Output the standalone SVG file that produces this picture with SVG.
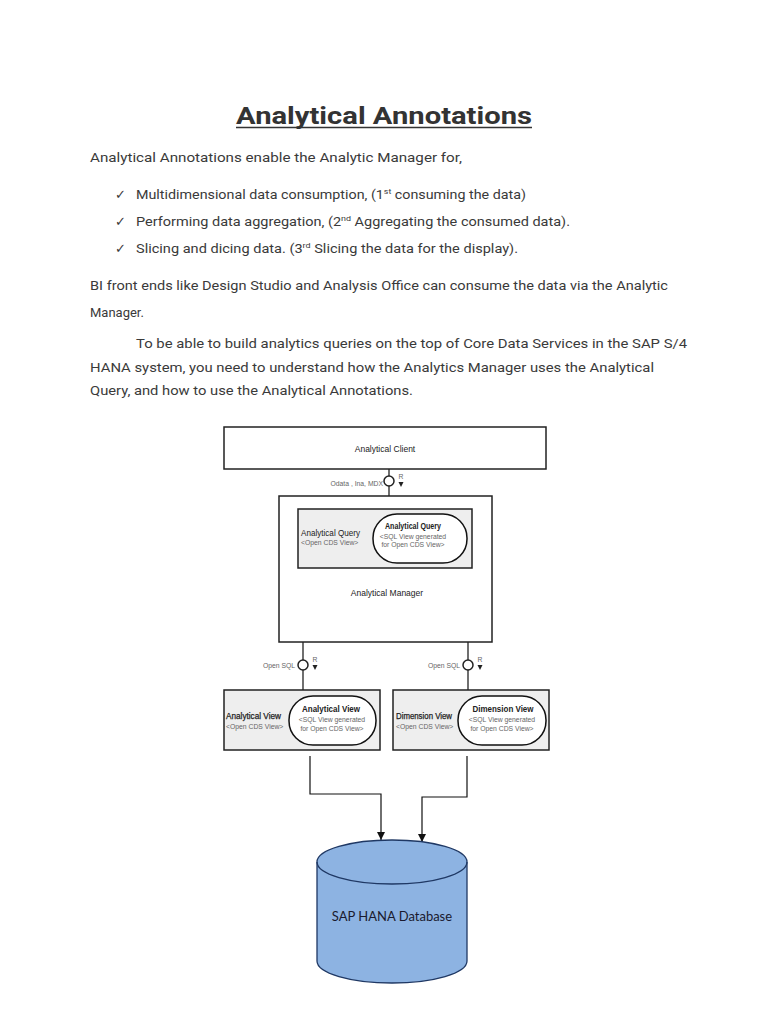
<svg xmlns="http://www.w3.org/2000/svg" width="768" height="1024" viewBox="0 0 768 1024">
<style>
.body{font-family:Roboto,"Open Sans",sans-serif;font-size:13px;fill:#3a3a3a}
.sup{font-size:8px}
.box{fill:#ffffff;stroke:#222;stroke-width:1.5}
.grey{fill:#eeeeee;stroke:#222;stroke-width:1.5}
.pill{fill:#ffffff;stroke:#111;stroke-width:1.5}
.lbl{font-family:"Liberation Sans",Arial,sans-serif;fill:#222}
.sm{font-family:"Liberation Sans",Arial,sans-serif;font-size:6.8px;fill:#666}
.ln{stroke:#222;stroke-width:1.3;fill:none}
.conn{stroke:#111;stroke-width:1.2;fill:none}
</style>
<defs>
<marker id="arr" viewBox="0 0 10 10" refX="10" refY="5" markerWidth="7" markerHeight="7" orient="auto-start-reverse">
<path d="M0,0 L10,5 L0,10 z" fill="#111"/>
</marker>
</defs>
<rect width="768" height="1024" fill="#ffffff"/>

<g id="text-section">
<text x="384" y="124" text-anchor="middle" font-family="Roboto,'Open Sans',sans-serif" font-size="23" font-weight="bold" fill="#333" textLength="296" lengthAdjust="spacingAndGlyphs">Analytical Annotations</text>
<line x1="236" y1="127.5" x2="532" y2="127.5" stroke="#333" stroke-width="1.5"/>
<text class="body" x="90" y="162" textLength="372" lengthAdjust="spacingAndGlyphs">Analytical Annotations enable the Analytic Manager for,</text>
<text class="body" x="115" y="199">✓</text>
<text class="body" x="115" y="226">✓</text>
<text class="body" x="115" y="253">✓</text>
<text class="body" x="136" y="199" textLength="390" lengthAdjust="spacingAndGlyphs">Multidimensional data consumption, (1<tspan class="sup" dy="-5">st</tspan><tspan dy="5"> consuming the data)</tspan></text>
<text class="body" x="136" y="226" textLength="434" lengthAdjust="spacingAndGlyphs">Performing data aggregation, (2<tspan class="sup" dy="-5">nd</tspan><tspan dy="5"> Aggregating the consumed data).</tspan></text>
<text class="body" x="136" y="253" textLength="382" lengthAdjust="spacingAndGlyphs">Slicing and dicing data. (3<tspan class="sup" dy="-5">rd</tspan><tspan dy="5"> Slicing the data for the display).</tspan></text>
<text class="body" x="90" y="290" textLength="578" lengthAdjust="spacingAndGlyphs">BI front ends like Design Studio and Analysis Office can consume the data via the Analytic</text>
<text class="body" x="90" y="317">Manager.</text>
<text class="body" x="136" y="348" textLength="551" lengthAdjust="spacingAndGlyphs">To be able to build analytics queries on the top of Core Data Services in the SAP S/4</text>
<text class="body" x="90" y="372" textLength="564" lengthAdjust="spacingAndGlyphs">HANA system, you need to understand how the Analytics Manager uses the Analytical</text>
<text class="body" x="90" y="395" textLength="323" lengthAdjust="spacingAndGlyphs">Query, and how to use the Analytical Annotations.</text>
</g>

<g id="analytical-client">
<rect class="box" x="224" y="427" width="322" height="42"/>
<text class="lbl" x="385" y="452" text-anchor="middle" font-size="8.5">Analytical Client</text>
</g>

<g id="connectors">
<line class="ln" x1="389" y1="469" x2="389" y2="496"/>
<circle cx="389" cy="481" r="5" fill="#fff" stroke="#222" stroke-width="1.5"/>
<text class="sm" x="383" y="486" text-anchor="end">Odata , Ina, MDX</text>
<text class="sm" x="401" y="479" font-size="4.5" text-anchor="middle">R</text>
<path d="M398.5,482 L403.5,482 L401,487 z" fill="#222"/>

<line class="ln" x1="303" y1="642" x2="303" y2="690"/>
<circle cx="303" cy="665" r="5" fill="#fff" stroke="#222" stroke-width="1.5"/>
<text class="sm" x="295" y="668" text-anchor="end">Open SQL</text>
<text class="sm" x="315" y="662" font-size="4.5" text-anchor="middle">R</text>
<path d="M312.5,665 L317.5,665 L315,670 z" fill="#222"/>

<line class="ln" x1="468" y1="642" x2="468" y2="690"/>
<circle cx="468" cy="665" r="5" fill="#fff" stroke="#222" stroke-width="1.5"/>
<text class="sm" x="460" y="668" text-anchor="end">Open SQL</text>
<text class="sm" x="480" y="662" font-size="4.5" text-anchor="middle">R</text>
<path d="M477.5,665 L482.5,665 L480,670 z" fill="#222"/>

<path class="conn" d="M310,756 V794 H381 V840" marker-end="url(#arr)"/>
<path class="conn" d="M467,756 V797 H422 V842" marker-end="url(#arr)"/>
</g>

<g id="analytical-manager">
<rect class="box" x="279" y="496" width="213" height="146"/>
<text class="lbl" x="387" y="596" text-anchor="middle" font-size="8.5">Analytical Manager</text>
</g>

<g id="analytical-query">
<rect class="grey" x="298" y="509" width="174" height="59"/>
<text class="lbl" x="301" y="536" font-size="8.5" textLength="59" lengthAdjust="spacingAndGlyphs">Analytical Query</text>
<text class="sm" x="301" y="545">&lt;Open CDS View&gt;</text>
<rect class="pill" x="373" y="514" width="94" height="49" rx="24" ry="24"/>
<text class="lbl" x="413" y="529" text-anchor="middle" font-size="8.5" font-weight="bold" textLength="56" lengthAdjust="spacingAndGlyphs">Analytical Query</text>
<text class="sm" x="413" y="539" text-anchor="middle">&lt;SQL View generated</text>
<text class="sm" x="413" y="547" text-anchor="middle">for Open CDS View&gt;</text>
</g>

<g id="analytical-view">
<rect class="grey" x="224" y="690" width="156" height="60"/>
<text class="lbl" x="226" y="719" font-size="8.5" stroke="#222" stroke-width="0.25" textLength="55" lengthAdjust="spacingAndGlyphs">Analytical View</text>
<text class="sm" x="226" y="729">&lt;Open CDS View&gt;</text>
<rect class="pill" x="289" y="696" width="87" height="49" rx="24" ry="24"/>
<text class="lbl" x="331" y="712" text-anchor="middle" font-size="8.5" font-weight="bold" textLength="58" lengthAdjust="spacingAndGlyphs">Analytical View</text>
<text class="sm" x="332" y="722" text-anchor="middle">&lt;SQL View generated</text>
<text class="sm" x="332" y="731" text-anchor="middle">for Open CDS View&gt;</text>
</g>

<g id="dimension-view">
<rect class="grey" x="393" y="690" width="156" height="60"/>
<text class="lbl" x="396" y="719" font-size="8.5" stroke="#222" stroke-width="0.25" textLength="56" lengthAdjust="spacingAndGlyphs">Dimension View</text>
<text class="sm" x="396" y="729">&lt;Open CDS View&gt;</text>
<rect class="pill" x="458" y="696" width="88" height="49" rx="24" ry="24"/>
<text class="lbl" x="503" y="712" text-anchor="middle" font-size="8.5" font-weight="bold" textLength="61" lengthAdjust="spacingAndGlyphs">Dimension View</text>
<text class="sm" x="502" y="722" text-anchor="middle">&lt;SQL View generated</text>
<text class="sm" x="502" y="731" text-anchor="middle">for Open CDS View&gt;</text>
</g>

<g id="sap-hana-database">
<path d="M317,862 A75,22 0 0 1 467,862 V961 A75,22 0 0 1 317,961 Z" fill="#8db3e2" stroke="#1f3864" stroke-width="1.3"/>
<path d="M317,862 A75,22 0 0 0 467,862" fill="none" stroke="#1f3864" stroke-width="1.3"/>
<text x="392" y="921" text-anchor="middle" font-family="Lato,'Liberation Sans',sans-serif" font-size="13" fill="#1a1a2e">SAP HANA Database</text>
</g>
</svg>
